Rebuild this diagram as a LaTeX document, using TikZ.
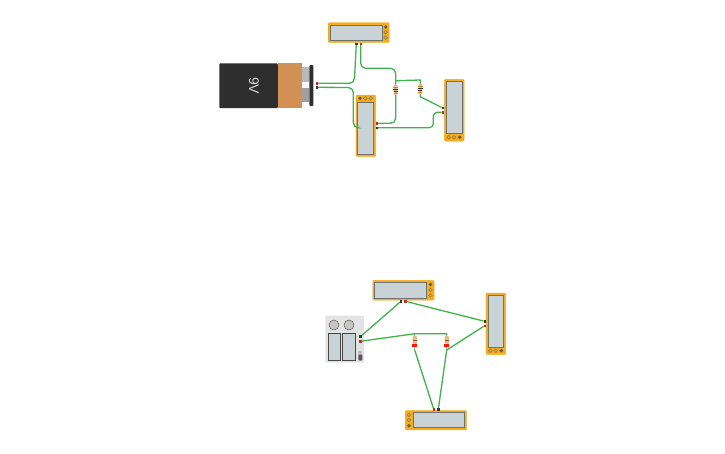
\documentclass[tikz,border=0pt]{standalone}
\usepackage{fontspec}
\setmainfont{Liberation Sans}
\definecolor{mOrange}{HTML}{F5AC1E}
\definecolor{mScreen}{HTML}{C9D3D6}
\definecolor{mFrame}{HTML}{6E7370}
\definecolor{wGreen}{HTML}{3FB44C}
\definecolor{tRed}{HTML}{C4282B}
\definecolor{tBlack}{HTML}{333333}
\definecolor{rBody}{HTML}{DCC08E}
\definecolor{knobC}{HTML}{8A7A4A}
\definecolor{capC}{HTML}{D29054}
\tikzset{
  casebox/.style={draw=mOrange,fill=mOrange,rounded corners=1pt,line width=0.4pt,inner sep=0pt,outer sep=0pt},
  screenbox/.style={draw=mFrame,fill=mScreen,line width=1pt,inner sep=0pt,outer sep=0pt},
  knob/.style={circle,draw=knobC,fill=mOrange!70!gray,line width=0.4pt,minimum size=3.8pt,inner sep=0pt},
  knobdark/.style={circle,fill=tBlack!80,minimum size=3.8pt,inner sep=0pt},
  tred/.style={fill=tRed,minimum size=2.4pt,inner sep=0pt,outer sep=0pt},
  tblack/.style={fill=tBlack,minimum size=2.4pt,inner sep=0pt,outer sep=0pt},
  wire/.style={draw=wGreen,line width=1.3pt,rounded corners=5pt},
  straight/.style={draw=wGreen,line width=1.3pt},
  rbody/.style={fill=rBody,inner sep=0pt,outer sep=0pt,rounded corners=0.8pt},
  lead/.style={draw=gray!70,line width=1pt},
}
\newcommand{\mymeter}[9]{%
  \node[casebox,minimum width=#4pt,minimum height=#5pt] (#1) at (#2,#3) {};
  \node[screenbox,minimum width=#8pt,minimum height=#9pt] (#1s) at (#6,#7) {};
}
% colour-banded resistor of the upper circuit
\newcommand{\myres}[3]{%
  \coordinate (#1t) at (#2,#3);
  \coordinate (#1b) at (#2,#3+11);
  \draw[lead] (#2,#3-1) -- (#2,#3+12);
  \node[rbody,minimum width=4pt,minimum height=10pt] (#1) at (#2,#3+5.5) {};
  \fill[brown!80!orange] (#2-2.5,#3+2.5) rectangle (#2+2.5,#3+3.5);
  \fill[tBlack] (#2-2.5,#3+4.5) rectangle (#2+2.5,#3+5.7);
  \fill[tBlack] (#2-2,#3+6.8) rectangle (#2+2,#3+7.8);
  \fill[orange!80!brown] (#2-2,#3+8.6) rectangle (#2+2,#3+9.6);
}
% resistor of the lower circuit
\newcommand{\myresb}[3]{%
  \coordinate (#1t) at (#2,#3);
  \coordinate (#1b) at (#2,#3+15);
  \draw[lead] (#2,#3) -- (#2,#3+15);
  \node[rbody,minimum width=4.4pt,minimum height=8pt] (#1) at (#2,#3+5) {};
  \fill[brown!70!black] (#2-2.2,#3+5) rectangle (#2+2.2,#3+5.8);
  \fill[red!85!orange] (#2-2.4,#3+9) rectangle (#2+2.4,#3+12.3);
}
\begin{document}
\begin{tikzpicture}[x=1pt,y=-1pt]
\useasboundingbox (0,0) rectangle (725,453);
\fill[white] (0,0) rectangle (725,453);

% ---------- upper circuit: battery
\node[fill=black!82,inner sep=0pt,outer sep=0pt,minimum width=58.5pt,minimum height=44.7pt,rounded corners=1pt] (batbody) at (248.5,85.7) {};
\node[fill=capC,inner sep=0pt,outer sep=0pt,minimum width=24pt,minimum height=44.7pt] (batcap) at (289.7,85.7) {};
\node[rotate=-90,text=white!85!black,font=\fontsize{14}{14}\selectfont] (batlabel) at (254,85.7) {9V};
\node[fill=gray!55,inner sep=0pt,minimum width=7.4pt,minimum height=15pt] (batpa) at (305.4,74.2) {};
\node[fill=gray!75,inner sep=0pt,minimum width=7.4pt,minimum height=14.6pt] (batpb) at (305.4,95) {};
\node[fill=black!82,inner sep=0pt,minimum width=4pt,minimum height=41pt,rounded corners=1pt] (batbar) at (311.3,85.5) {};
\node[tred] (batr) at (316.7,83.3) {};
\node[tblack] (batk) at (316.7,87.3) {};

% meters
\mymeter{ma}{358.7}{32.5}{61}{19.6}{356}{32.7}{52}{15.3}
\mymeter{mb}{365.8}{125.7}{19.7}{61.3}{365.8}{128.3}{15.7}{52}
\mymeter{mc}{454.2}{110.2}{19.7}{61.7}{454.2}{107.7}{15.7}{52}
\foreach \n/\x/\y/\s in {a1/385.7/27/knobdark,a2/385.7/32.3/knob,a3/385.7/37.7/knob,
   b1/360/98.3/knobdark,b2/365.3/98.3/knob,b3/370.7/98.3/knob,
   c1/448.7/137.3/knob,c2/454/137.3/knob,c3/459.7/137.3/knobdark}
  \node[\s] (k\n) at (\x,\y) {};

\node[tblack] (mak) at (356.3,43.7) {};
\node[tred]   (mar) at (360.7,43.7) {};
\node[tred]   (mbr) at (376.7,123.3) {};
\node[tblack] (mbk) at (376.7,127.7) {};
\node[tblack] (mck) at (442.7,108) {};
\node[tred]   (mcr) at (442.7,112.3) {};
\coordinate (mbl) at (356,127.7);

\myres{ra}{395.7}{84}
\myres{rb}{420.3}{83.3}

% wires upper
\draw[wire] (batr) -- (354.3,83.3) -- (mak);
\draw[wire] (batk) -- (353.3,87.5) -- (353.3,127.7) -- (mbl);
\draw[wire] (mar) -- (360.7,68.3) -- (395.7,68.3) -- (rat);
\draw[straight] (395.9,80.7) -- (420.3,80) -- (rbt);
\draw[wire] (rab) -- (395.7,123.3) -- (mbr);
\draw[straight] (rbb) -- (420.3,96.7) -- (mck);
\draw[wire,rounded corners=4pt] (mbk) -- (433.3,127.7) -- (433.3,112.3) -- (mcr);

% ---------- lower circuit: power supply
\node[fill=gray!22,inner sep=0pt,outer sep=0pt,minimum width=38.7pt,minimum height=47pt,rounded corners=1pt] (psu) at (344.7,339.2) {};
\node[circle,draw=gray!70!black,fill=gray!45,line width=0.5pt,minimum size=10pt,inner sep=0pt] (pska) at (334,325) {};
\node[circle,draw=gray!70!black,fill=gray!45,line width=0.5pt,minimum size=10pt,inner sep=0pt] (pskb) at (349,325) {};
\node[screenbox,line width=0.6pt,draw=gray!55!black,minimum width=12.7pt,minimum height=27.4pt] (pssa) at (334.3,347) {};
\node[screenbox,line width=0.6pt,draw=gray!55!black,minimum width=12.7pt,minimum height=27.4pt] (pssb) at (348.6,347) {};
\node[fill=gray!50,inner sep=0pt,minimum width=4pt,minimum height=4pt] (pssx) at (360.3,352.5) {};
\node[fill=black!65,rounded corners=1pt,inner sep=0pt,minimum width=4pt,minimum height=6pt] (pssw) at (360.3,357.5) {};
\node[fill=green!35!black,minimum size=3pt,inner sep=0pt] (psk) at (360.3,336.7) {};
\node[tred,minimum size=3pt] (psr) at (360.3,341.3) {};

\mymeter{md}{403.4}{290.2}{61.3}{19.7}{400.8}{290.5}{51.7}{15.6}
\mymeter{me}{495.8}{323.7}{19.7}{61.3}{496}{321.3}{15.4}{52}
\mymeter{mf}{436}{420.3}{61.4}{19.3}{439}{420.3}{51.4}{15.3}
\foreach \n/\x/\y/\s in {d1/430.5/284.5/knobdark,d2/430.5/290/knob,d3/430.5/295.5/knob,
   e1/490.3/350.7/knob,e2/495.7/350.7/knob,e3/501.3/350.7/knobdark,
   f1/409/415/knob,f2/409/420/knob,f3/409/425.7/knobdark}
  \node[\s] (k\n) at (\x,\y) {};

\node[tblack] (mdk) at (401,301.3) {};
\node[tred]   (mdr) at (405.3,301.3) {};
\node[tblack] (mek) at (484.7,321.3) {};
\node[tred]   (mer) at (484.7,325.7) {};
\node[tred]   (mfr) at (433.7,409.3) {};
\node[tblack] (mfk) at (438.3,409.3) {};

\myresb{rc}{414.7}{335}
\myresb{rd}{446.7}{335}

\coordinate (bus) at (414.7,333.7);
\draw[straight] (psk) -- (mdk);
\draw[straight] (mdr) -- (mek);
\draw[straight] (psr) -- (bus) -- (446.7,333.7) -- (rdt);
\draw[straight] (bus) -- (rct);
\draw[straight] (rcb) -- (mfr);
\draw[straight] (rdb) -- (mfk);
\draw[straight] (rdb) -- (mer);
\end{tikzpicture}
\end{document}
